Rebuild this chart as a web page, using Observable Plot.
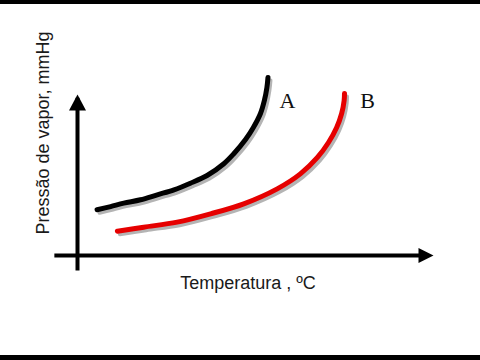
<!DOCTYPE html>
<html><head><meta charset="utf-8">
<script src="https://cdn.jsdelivr.net/npm/d3@7"></script>
<script src="https://cdn.jsdelivr.net/npm/@observablehq/plot@0.6"></script>
<style>
body{margin:0;background:#fff;width:480px;height:360px;overflow:hidden}
.bar{background:#000;width:480px}
#chart svg{display:block}
</style></head><body>
<div class="bar" style="height:4px"></div>
<div id="chart"></div>
<div class="bar" style="height:5px"></div>
<script>
// Curve A (black) — temperature (arbitrary units) vs vapour pressure (arbitrary units)
const tempA  = [5.5, 9.3, 13.0, 17.7, 22.4, 27.1, 31.7, 36.4, 41.1, 43.9, 47.2, 49.4, 51.4, 52.5, 53.2, 53.5];
const pressA = [28.4, 30.4, 32.5, 34.6, 37.7, 40.8, 44.9, 49.7, 57.0, 63.2, 72.0, 79.5, 88.2, 96.3, 104.3, 110.6];
// Curve B (red)
const tempB  = [11.2, 18.6, 28.0, 37.4, 46.7, 56.1, 62.6, 67.4, 70.5, 72.8, 74.2, 74.9, 75.0];
const pressB = [15.1, 17.6, 20.7, 25.9, 32.1, 41.4, 50.7, 60.9, 70.2, 79.5, 88.2, 96.3, 100.6];
// Series labels and their anchor points
const seriesNames = ["A", "B"];
const labelTemp = [59.0, 81.5];
const labelPress = [95.7, 95.7];
// Axis extents (arrow tips at 100)
const axisXStart = -6.5, axisYStart = -9.3, axisEnd = 100;
const xTitle = "Temperatura , ºC";
const yTitle = "Pressão de vapor, mmHg";

const A = tempA.map((t, i) => ({t, p: pressA[i]}));
const B = tempB.map((t, i) => ({t, p: pressB[i]}));
const labels = seriesNames.map((s, i) => ({s, t: labelTemp[i], p: labelPress[i]}));

const arrowUp = {draw(ctx) { ctx.moveTo(0, 0); ctx.lineTo(-8.5, 16); ctx.lineTo(8.5, 16); ctx.closePath(); }};
const arrowRight = {draw(ctx) { ctx.moveTo(0, 0); ctx.lineTo(-15, -7.5); ctx.lineTo(-15, 7.5); ctx.closePath(); }};

const shadow = "#b4b4b4";
const curve = "catmull-rom";
const plot = Plot.plot({
  width: 480, height: 351,
  marginLeft: 77, marginRight: 47, marginTop: 90, marginBottom: 100,
  x: {domain: [0, 100], axis: null},
  y: {domain: [0, 100], axis: null},
  style: {background: "white", overflow: "visible"},
  marks: [
    // axes
    Plot.link([{x1: axisXStart, x2: axisEnd - 2, y: 0}], {x1: "x1", x2: "x2", y1: "y", y2: "y", stroke: "black", strokeWidth: 4}),
    Plot.link([{y1: axisYStart, y2: axisEnd - 2, x: 0}], {y1: "y1", y2: "y2", x1: "x", x2: "x", stroke: "black", strokeWidth: 4}),
    Plot.dot([{x: axisEnd, y: 0}], {x: "x", y: "y", symbol: arrowRight, r: 5, fill: "black", stroke: null}),
    Plot.dot([{x: 0, y: axisEnd}], {x: "x", y: "y", symbol: arrowUp, r: 5, fill: "black", stroke: null}),
    // shadows
    Plot.line(A, {x: "t", y: "p", curve, stroke: shadow, strokeWidth: 4, dx: 2.5, dy: 3}),
    Plot.line(B, {x: "t", y: "p", curve, stroke: shadow, strokeWidth: 4, dx: 2.5, dy: 3}),
    // curves
    Plot.line(A, {x: "t", y: "p", curve, stroke: "black", strokeWidth: 5}),
    Plot.line(B, {x: "t", y: "p", curve, stroke: "#e60000", strokeWidth: 5}),
    // series labels
    Plot.text(labels, {x: "t", y: "p", text: "s", fontFamily: "Liberation Serif, Times New Roman, serif", fontSize: 22, fill: "#111"}),
    // axis titles
    Plot.text([xTitle], {x: 47.9, y: -17.4, text: d => d, fontFamily: "Liberation Sans, Arial, sans-serif", fontSize: 18, fill: "#1a1a1a"}),
    Plot.text([yTitle], {x: -9.6, y: 76.1, text: d => d, rotate: -90, fontFamily: "Liberation Sans, Arial, sans-serif", fontSize: 18, fill: "#1a1a1a"})
  ]
});
document.getElementById("chart").appendChild(plot);
</script></body></html>
